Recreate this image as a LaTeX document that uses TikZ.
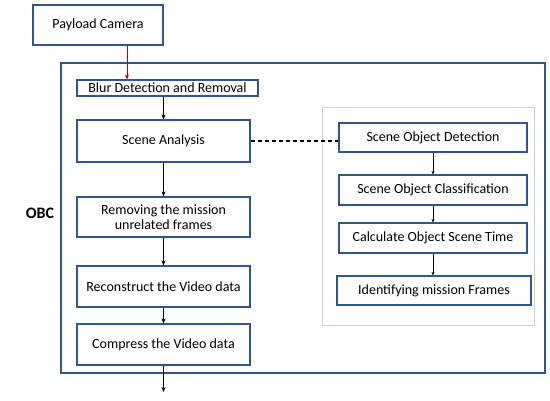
\documentclass[tikz,border=0pt]{standalone}
\usepackage{fontspec}
\setmainfont{Carlito}
\usetikzlibrary{arrows.meta,shadows}

\begin{document}
\begin{tikzpicture}[
            x=1pt, y=-1pt,
            blk/.style={
                draw=boxblue, line width=1.2pt, fill=white,
                font=\fontsize{14}{15.5}\selectfont, align=center,
                inner sep=0pt
            },
            flow/.style={
                line width=1pt, -{Stealth[length=5pt,width=4pt]}
            },
            thinflow/.style={
                line width=0.5pt, -{Stealth[length=3.5pt,width=3pt]}
            }
        ]
        \definecolor{boxblue}{RGB}{47,85,151}
        \useasboundingbox (0,0) rectangle (550,400);

        % OBC frame and side panel
        \draw[boxblue, line width=1.2pt] (61,63) rectangle (545,373);
        \node[font=\bfseries\fontsize{16}{18}\selectfont] (obc) at (40,213) {OBC};
        \draw[gray!35, line width=0.8pt, fill=white,
              drop shadow={opacity=0.25, shadow xshift=1.2pt, shadow yshift=-1.2pt}]
            (322,107) rectangle (534,325);

        % main chain
        \node[blk, minimum width=130pt, minimum height=40pt] (cam) at (98,25) {Payload Camera};
        \node[blk, minimum width=181pt, minimum height=16pt] (blur) at (167.5,88) {Blur Detection and Removal};
        \node[blk, minimum width=173pt, minimum height=42pt] (scene) at (163.5,141) {Scene Analysis};
        \node[blk, minimum width=173pt, minimum height=40pt] (remove) at (163.5,217) {Removing the mission\\unrelated frames};
        \node[blk, minimum width=173pt, minimum height=41pt] (recon) at (163.5,286.5) {Reconstruct the Video data};
        \node[blk, minimum width=173pt, minimum height=41pt] (comp) at (163.5,344.5) {Compress the Video data};
        \coordinate (out) at (163.5,392);

        % object chain
        \node[blk, minimum width=188pt, minimum height=29pt] (detect) at (433,137.5) {Scene Object Detection};
        \node[blk, minimum width=188pt, minimum height=30pt] (classify) at (433,190) {Scene Object Classification};
        \node[blk, minimum width=188pt, minimum height=30pt] (calc) at (433,238) {Calculate Object Scene Time};
        \node[blk, minimum width=194pt, minimum height=29pt] (ident) at (434,290.5) {Identifying mission Frames};

        \draw[flow, red!75!black] ([xshift=29pt]cam.south) -- ([xshift=29pt]cam.south |- blur.north);
        \draw[flow] (scene.north |- blur.south) -- (scene.north);
        \draw[flow] (scene) -- (remove);
        \draw[flow] (remove) -- (recon);
        \draw[flow] (recon) -- (comp);
        \draw[flow] (comp) -- (out);

        \draw[line width=1.3pt, dash pattern=on 4pt off 3pt] (scene.east) -- (scene.east -| detect.west);

        \draw[thinflow] (detect) -- (classify);
        \draw[thinflow] (classify) -- (calc);
        \draw[thinflow] (calc) -- (calc.south |- ident.north);
        \end{tikzpicture}
\end{document}
